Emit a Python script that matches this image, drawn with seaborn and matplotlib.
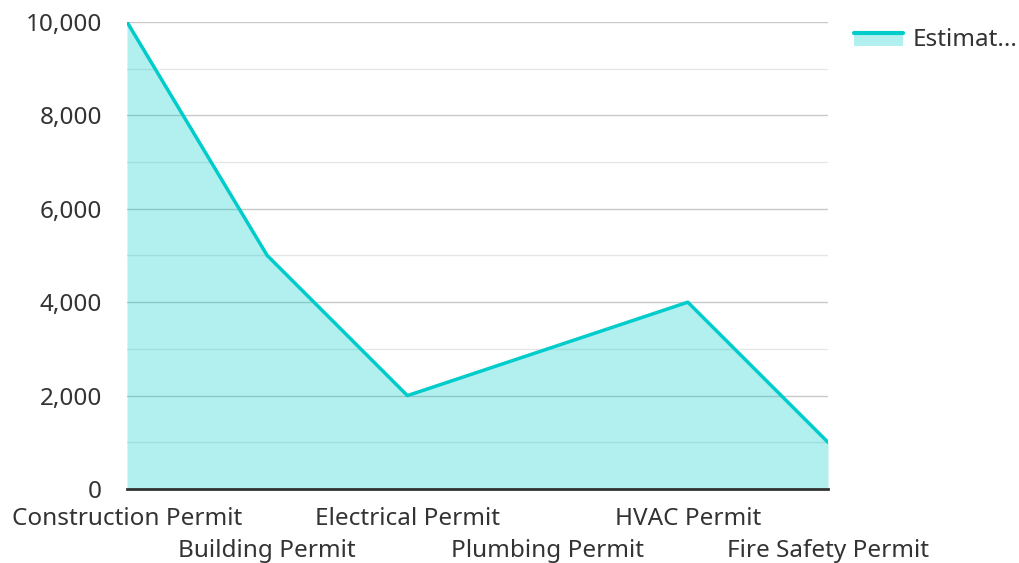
import pandas as pd
import matplotlib
matplotlib.use("Agg")
import matplotlib.pyplot as plt
from matplotlib.patches import Rectangle
from matplotlib.lines import Line2D
from matplotlib.legend_handler import HandlerBase
from matplotlib.ticker import MultipleLocator, FixedLocator, FixedFormatter, FuncFormatter
import seaborn as sns

# data
permits = ["Construction Permit", "Building Permit", "Electrical Permit",
           "Plumbing Permit", "HVAC Permit", "Fire Safety Permit"]
estimated_cost = [10000, 5000, 2000, 3000, 4000, 1000]
series_name = "Estimat..."

LINE = "#00cccc"
FILL = "#b2f0ef"
TEXT = "#333333"
FS = 17.5


class AreaHandler(HandlerBase):
    # legend swatch: pale block with the line along its top
    def create_artists(self, legend, orig, xd, yd, w, h, fontsize, trans):
        top = -yd + h * 0.75
        r = Rectangle((-xd, -yd), w, h * 0.75, facecolor=FILL, edgecolor="none",
                      transform=trans)
        ln = Line2D([-xd, -xd + w], [top, top], color=LINE, lw=3, transform=trans)
        return [r, ln]


def main():
    sns.set_style("white")
    plt.rcParams["font.family"] = ["Noto Sans", "DejaVu Sans"]

    df = pd.DataFrame({"permit": permits, "cost": estimated_cost})
    xs = list(range(len(df)))

    fig = plt.figure(figsize=(10.2, 5.63), dpi=100)
    ax = fig.add_axes([0.1245, 0.1314, 0.6873, 0.8296])

    ax.fill_between(xs, df["cost"], color=LINE, alpha=0.3, lw=0, zorder=2)
    sns.lineplot(data=df, x=xs, y="cost", color=LINE, lw=2.5, ax=ax,
                 zorder=3, sort=False)

    ax.set_xlim(0, len(df) - 1)
    ax.set_ylim(0, 10000)
    ax.yaxis.set_major_locator(MultipleLocator(2000))
    ax.yaxis.set_minor_locator(MultipleLocator(1000))
    ax.yaxis.set_major_formatter(FuncFormatter(lambda v, p: f"{v:,.0f}"))
    ax.grid(axis="y", which="major", color="#c8c8c8", lw=1, zorder=1)
    ax.grid(axis="y", which="minor", color="#e6e6e6", lw=1, zorder=1)
    ax.set_axisbelow(True)

    # staggered category labels: even ones on major ticks, odd ones on minor ticks lower down
    ax.xaxis.set_major_locator(FixedLocator(xs[0::2]))
    ax.xaxis.set_major_formatter(FixedFormatter(permits[0::2]))
    ax.xaxis.set_minor_locator(FixedLocator(xs[1::2]))
    ax.xaxis.set_minor_formatter(FixedFormatter(permits[1::2]))
    ax.tick_params(axis="x", which="major", length=0, pad=13, labelsize=FS, labelcolor=TEXT)
    ax.tick_params(axis="x", which="minor", length=0, pad=36, labelsize=FS, labelcolor=TEXT)
    ax.tick_params(axis="y", which="both", length=0, pad=18, labelsize=FS,
                   labelcolor=TEXT)

    for s in ["top", "right", "left"]:
        ax.spines[s].set_visible(False)
    ax.spines["bottom"].set_color(TEXT)
    ax.spines["bottom"].set_linewidth(2)
    ax.spines["bottom"].set_zorder(4)
    ax.set_xlabel("")
    ax.set_ylabel("")

    fig.legend([object()], [series_name], handler_map={object: AreaHandler()},
               loc="upper left", bbox_to_anchor=(0.816, 0.99), frameon=False,
               fontsize=FS, labelcolor=TEXT, handlelength=2.0, handletextpad=0.4)

    fig.savefig("out.png", dpi=100)


if __name__ == "__main__":
    main()
